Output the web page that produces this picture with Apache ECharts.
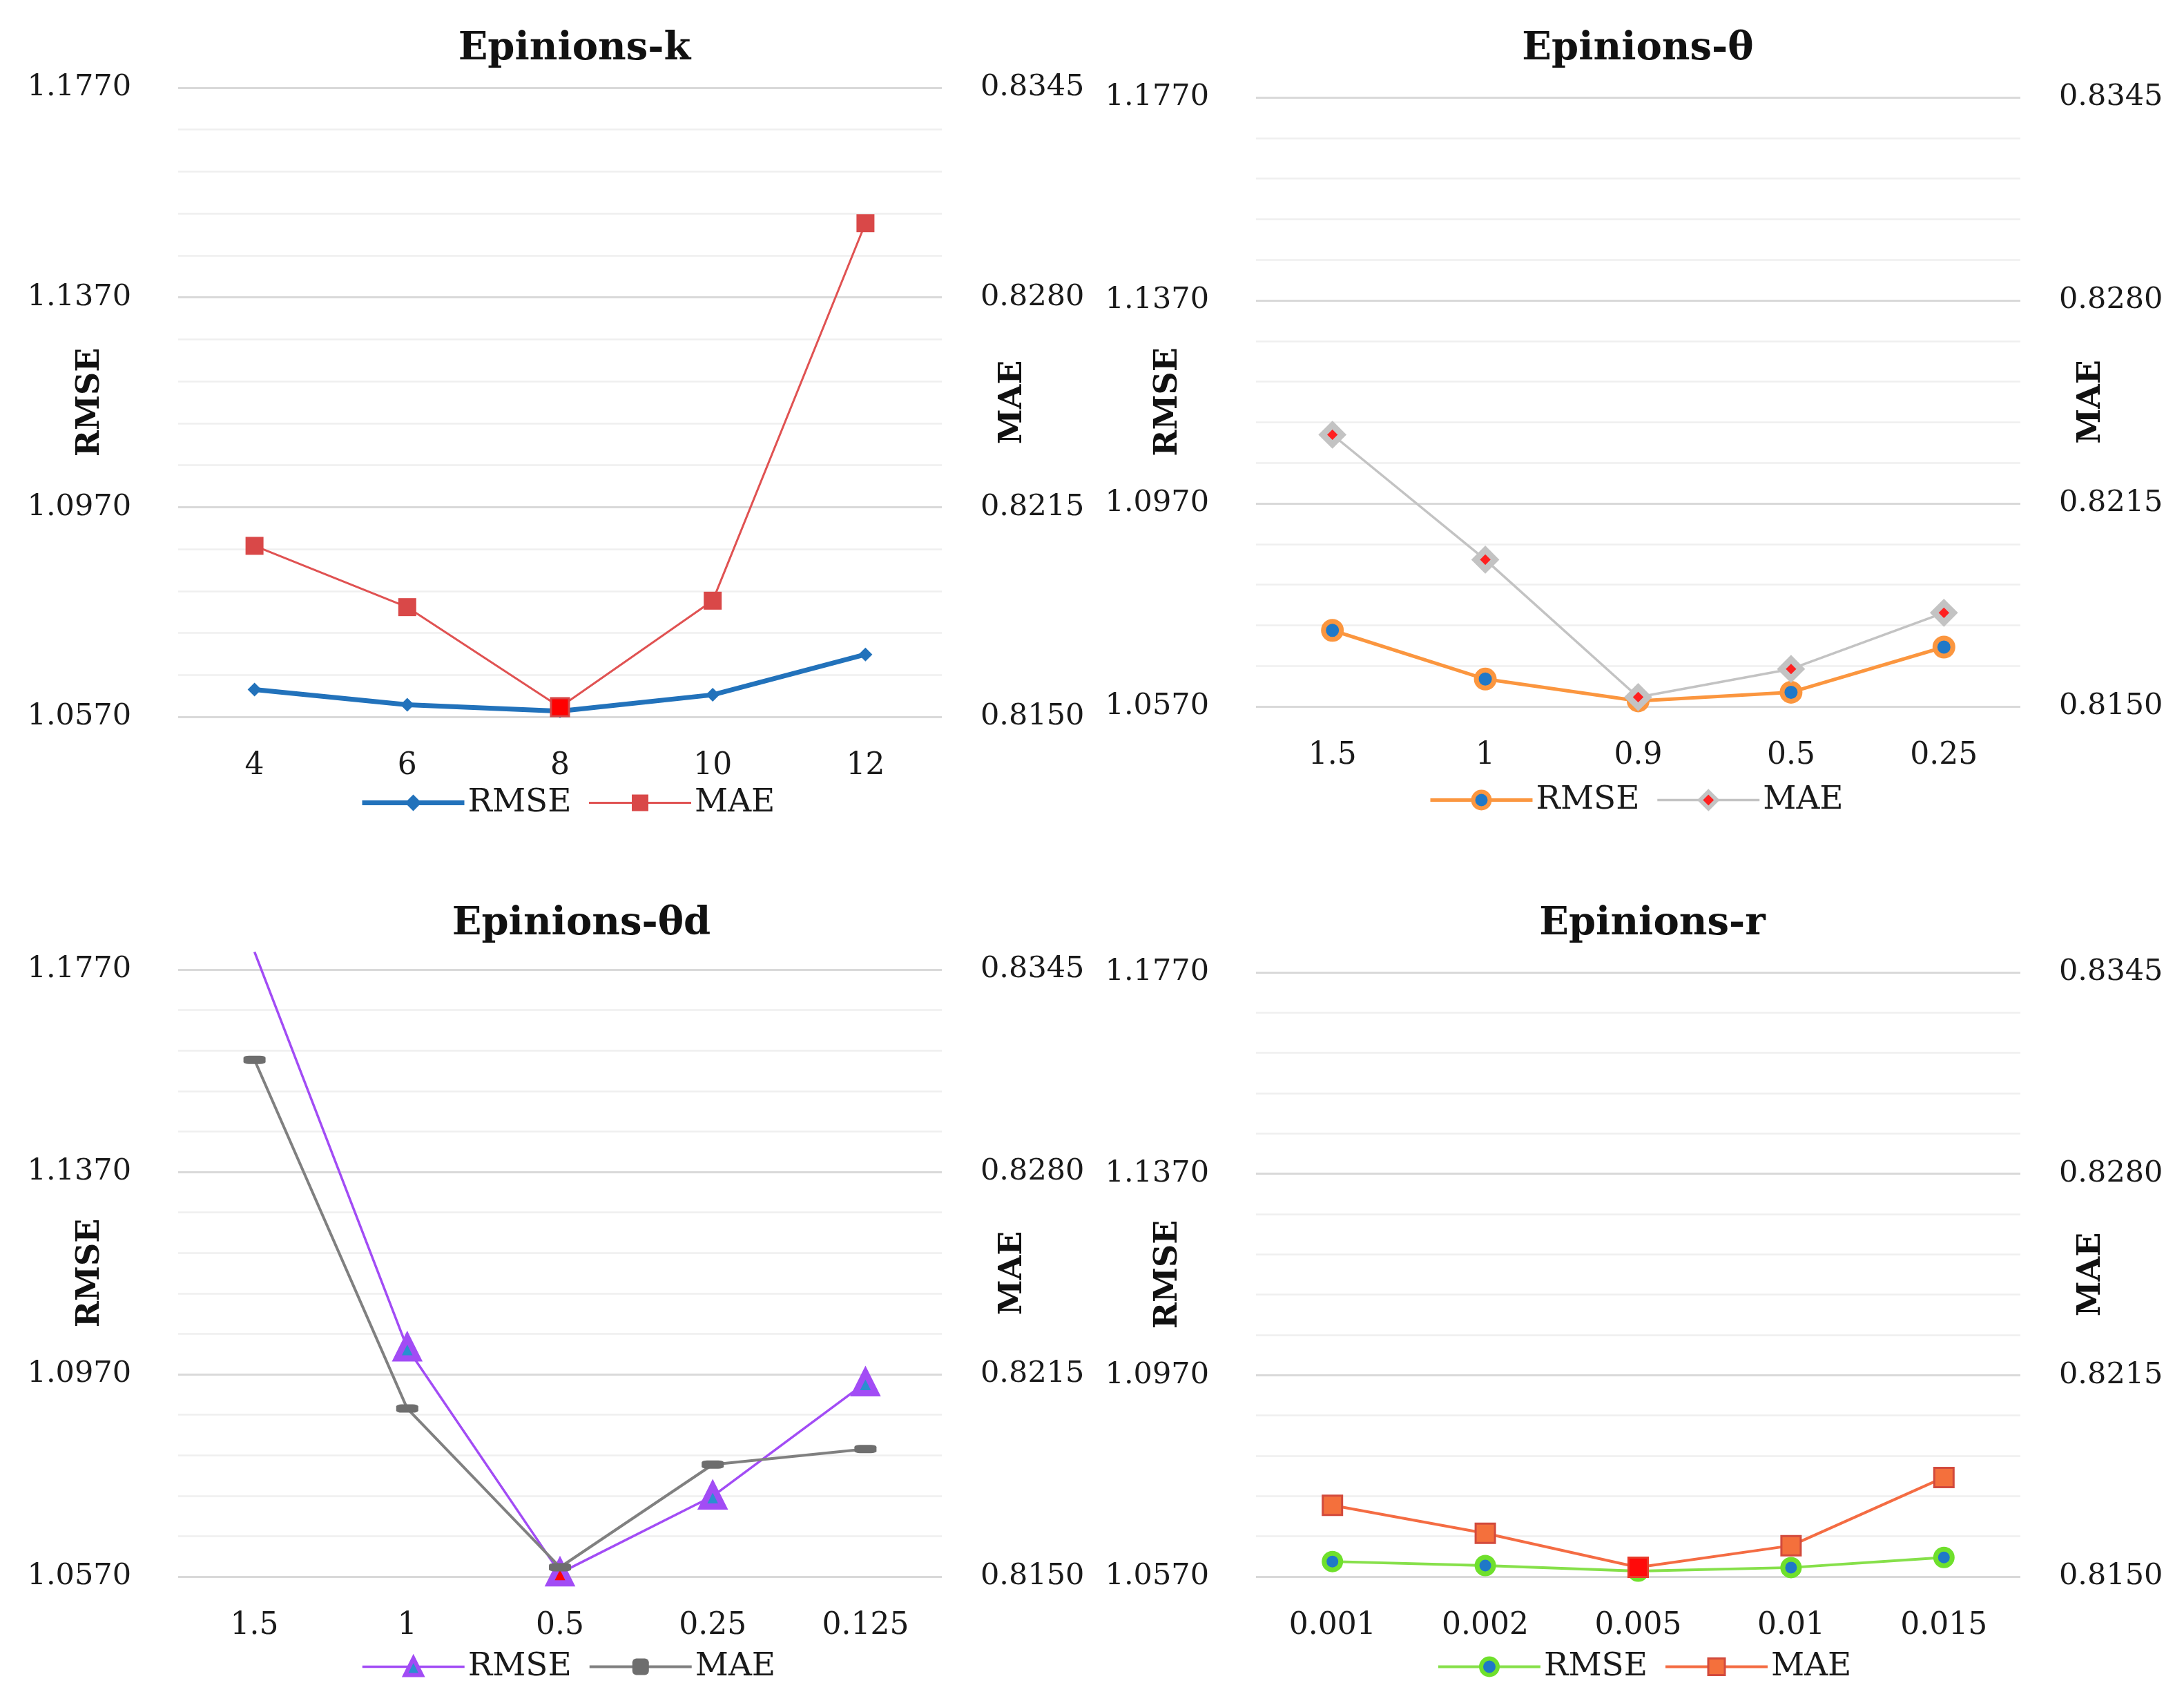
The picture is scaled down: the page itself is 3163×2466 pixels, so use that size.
<!DOCTYPE html>
<html lang="en">
<head>
    <meta charset="UTF-8">
    <title>Epinions</title>
    <style>
        html, body { margin: 0; padding: 0; background: #fff; }
    </style>
</head>
<body>
<div id="demo" style="width:3163px;height:2466px"></div>
<script src="https://cdn.jsdelivr.net/npm/echarts@6/dist/echarts.min.js"></script>
<script type="text/javascript">

    // values
    var catK = ['4', '6', '8', '10', '12'];
    var rmseK = [1.0622, 1.0593, 1.0581, 1.0612, 1.0689];
    var maeK = [0.8203, 0.8184, 0.8153, 0.8186, 0.8303];

    var catTheta = ['1.5', '1', '0.9', '0.5', '0.25'];
    var rmseTheta = [1.0720, 1.0624, 1.0581, 1.0598, 1.0687];
    var maeTheta = [0.8237, 0.8197, 0.8153, 0.8162, 0.8180];

    var catThetaD = ['1.5', '1', '0.5', '0.25', '0.125'];
    var rmseThetaD = [1.1805, 1.1022, 1.0577, 1.0729, 1.0953];
    var maeThetaD = [0.8316, 0.8204, 0.8153, 0.8186, 0.8191];

    var catR = ['0.001', '0.002', '0.005', '0.01', '0.015'];
    var rmseR = [1.0600, 1.0592, 1.0581, 1.0588, 1.0608];
    var maeR = [0.8173, 0.8164, 0.8153, 0.8160, 0.8182];

    var rmseTicks = [1.057, 1.177, 0.04];
    var maeTicks = [0.815, 0.8345, 0.0065];

    var FONT = 'DejaVu Serif';

    var panels = [
        {title: 'Epinions-k', cats: catK, rmse: rmseK, mae: maeK, best: 2,
            grid: {left: 258, top: 127, width: 1106, height: 911},
            titlePos: [827, 38], legendPos: [516, 1134],
            rmseStyle: {color: '#2272bb', width: 7, symbol: 'diamond', size: 20, fill: '#2272bb', border: '#2272bb', bw: 0},
            maeStyle: {color: '#e05252', width: 3, symbol: 'rect', size: 26, fill: '#d94848', border: '#d94848', bw: 0},
            bestRmse: null, bestMae: {color: '#ff0000', borderColor: '#d64545', borderWidth: 3}},
        {title: 'Epinions-θ', cats: catTheta, rmse: rmseTheta, mae: maeTheta, best: 2,
            grid: {left: 1819, top: 141, width: 1107, height: 882},
            titlePos: [2367, 38], legendPos: [2064, 1130],
            rmseStyle: {color: '#fb963f', width: 5, symbol: 'circle', size: 26, fill: '#1f78c8', border: '#fb963f', bw: 7},
            maeStyle: {color: '#c3c3c3', width: 3.5, symbol: 'diamond', size: 28, fill: '#ff2020', border: '#c3c3c3', bw: 9},
            bestRmse: null, bestMae: null},
        {title: 'Epinions-θd', cats: catThetaD, rmse: rmseThetaD, mae: maeThetaD, best: 2,
            grid: {left: 258, top: 1404, width: 1106, height: 879},
            titlePos: [837, 1305], legendPos: [518, 2385],
            rmseStyle: {color: '#a24cf5', width: 3.5, symbol: 'triangle', size: 30, fill: '#2a8fd0', border: '#a24cf5', bw: 9},
            maeStyle: {color: '#808080', width: 4, symbol: 'roundRect', size: [32, 12], fill: '#6e6e6e', border: '#6e6e6e', bw: 0},
            bestRmse: {color: '#ff0000', borderColor: '#a24cf5', borderWidth: 9}, bestMae: null,
            noClip: true},
        {title: 'Epinions-r', cats: catR, rmse: rmseR, mae: maeR, best: 2,
            grid: {left: 1819, top: 1408, width: 1107, height: 875},
            titlePos: [2388, 1305], legendPos: [2076, 2385],
            rmseStyle: {color: '#86e04a', width: 4, symbol: 'circle', size: 24, fill: '#1f78c8', border: '#6fe02c', bw: 7},
            maeStyle: {color: '#f46c43', width: 4, symbol: 'rect', size: 28, fill: '#f4703c', border: '#d24a3c', bw: 3},
            bestRmse: null, bestMae: {color: '#ff0a0a', borderColor: '#e83a2a', borderWidth: 3}}
    ];

    function buildData(vals, best, bestStyle, yMax) {
        var out = [];
        for (var i = 0; i < vals.length; i++) {
            if (i === best && bestStyle) {
                out.push({value: vals[i], itemStyle: bestStyle});
            } else if (yMax !== undefined && vals[i] > yMax) {
                // point above the axis: keep the line, hide the marker
                out.push({value: vals[i], symbol: 'none'});
            } else {
                out.push(vals[i]);
            }
        }
        return out;
    }

    function makeSeries(name, vals, p, idx, st, bestStyle, yIdx, yMax) {
        return {
            name: name + '#' + idx,
            type: 'line',
            xAxisIndex: idx,
            yAxisIndex: yIdx,
            data: buildData(vals, p.best, bestStyle, yMax),
            symbol: st.symbol,
            symbolSize: st.size,
            showAllSymbol: true,
            clip: !p.noClip,
            lineStyle: {color: st.color, width: st.width},
            itemStyle: {color: st.fill, borderColor: st.border, borderWidth: st.bw, opacity: 1},
            emphasis: {disabled: true},
            z: yIdx % 2 === 0 ? 3 : 4
        };
    }

    function legendItem(name, st) {
        return {
            name: name,
            itemStyle: {color: st.fill, borderColor: st.border, borderWidth: Math.min(st.bw, 6)},
            lineStyle: {color: st.color, width: st.width}
        };
    }

    function Einit() {
        var myChart = echarts.init(document.getElementById('demo'));
        var grids = [], xAxes = [], yAxes = [], series = [], titles = [], legends = [];

        for (var i = 0; i < panels.length; i++) {
            var p = panels[i];
            grids.push(p.grid);
            titles.push({
                text: p.title,
                left: p.titlePos[0],
                top: p.titlePos[1],
                textAlign: 'center',
                textStyle: {fontFamily: FONT, fontWeight: 'bold', fontSize: 56, color: '#111'}
            });
            xAxes.push({
                type: 'category',
                gridIndex: i,
                data: p.cats,
                boundaryGap: true,
                axisLine: {show: false},
                axisTick: {show: false},
                axisLabel: {fontFamily: FONT, fontSize: 44, color: '#1a1a1a', margin: 50}
            });
            yAxes.push({
                type: 'value',
                gridIndex: i,
                position: 'left',
                min: rmseTicks[0],
                max: rmseTicks[1],
                interval: rmseTicks[2],
                name: 'RMSE',
                nameLocation: 'middle',
                nameRotate: 90,
                nameGap: 104,
                nameMoveOverlap: false,
                nameTextStyle: {fontFamily: FONT, fontWeight: 'bold', fontSize: 46, color: '#111'},
                axisLine: {show: false},
                axisTick: {show: false},
                axisLabel: {
                    fontFamily: FONT, fontSize: 43, color: '#1a1a1a', margin: 68,
                    formatter: function (v) { return v.toFixed(4); }
                },
                splitLine: {show: true, lineStyle: {color: '#d9d9d9', width: 3}},
                minorTick: {show: false, splitNumber: 5},
                minorSplitLine: {show: true, lineStyle: {color: '#efefef', width: 2.5}}
            });
            yAxes.push({
                type: 'value',
                gridIndex: i,
                position: 'right',
                min: maeTicks[0],
                max: maeTicks[1],
                interval: maeTicks[2],
                name: 'MAE',
                nameLocation: 'middle',
                nameRotate: 90,
                nameGap: 80,
                nameMoveOverlap: false,
                nameTextStyle: {fontFamily: FONT, fontWeight: 'bold', fontSize: 46, color: '#111'},
                axisLine: {show: false},
                axisTick: {show: false},
                axisLabel: {
                    fontFamily: FONT, fontSize: 43, color: '#1a1a1a', margin: 56,
                    formatter: function (v) { return v.toFixed(4); }
                },
                splitLine: {show: false}
            });
            series.push(makeSeries('RMSE', p.rmse, p, i, p.rmseStyle, p.bestRmse, i * 2, rmseTicks[1]));
            series.push(makeSeries('MAE', p.mae, p, i, p.maeStyle, p.bestMae, i * 2 + 1));
            legends.push({
                left: p.legendPos[0],
                top: p.legendPos[1],
                data: [legendItem('RMSE#' + i, p.rmseStyle), legendItem('MAE#' + i, p.maeStyle)],
                itemWidth: 148,
                itemHeight: 30,
                itemGap: 24,
                selectedMode: false,
                formatter: function (n) { return n.split('#')[0]; },
                textStyle: {fontFamily: FONT, fontSize: 47, color: '#1a1a1a'}
            });
        }

        var option = {
            backgroundColor: '#ffffff',
            animation: false,
            title: titles,
            legend: legends,
            grid: grids,
            xAxis: xAxes,
            yAxis: yAxes,
            series: series
        };
        myChart.setOption(option);
    }

    Einit();
</script>
</body>
</html>
